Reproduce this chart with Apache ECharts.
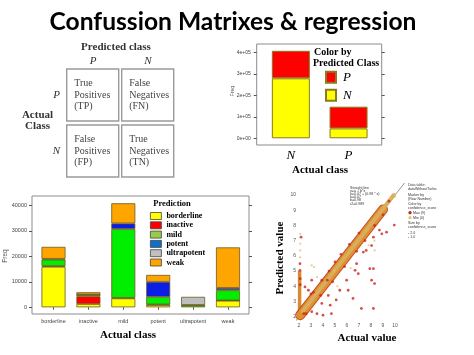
<!DOCTYPE html>
<html><head><meta charset="utf-8">
<script src="https://cdn.jsdelivr.net/npm/echarts@6/dist/echarts.min.js"></script>
<style>html,body{margin:0;padding:0;background:#fff}#c{width:474px;height:355px}</style>
</head><body><div id="c"></div>
<script>
// ---------------- data ----------------
const titleText = 'Confussion Matrixes & regression';

// confusion matrix diagram texts
const cmColLabels = ['P', 'N'];
const cmRowLabels = ['P', 'N'];
const cmCells = [
  ['True', 'Positives', '(TP)'], ['False', 'Negatives', '(FN)'],
  ['False', 'Positives', '(FP)'], ['True', 'Negatives', '(TN)']
];

// top-right: binary classification (actual class, coloured by predicted class)
const binCategories = ['N', 'P'];
const binPredN = [279000, 46000];
const binPredP = [128000, 101000];
const binTicks = [0, 100000, 200000, 300000, 400000];
const binTickLabels = ['0e+00', '1e+05', '2e+05', '3e+05', '4e+05'];

// bottom-left: multi-class
const mcCategories = ['borderline', 'inactive', 'mild', 'potent', 'ultrapotent', 'weak'];
const predBorderline  = [15900, 1300, 3500, 900, 0, 2600];
const predInactive    = [300, 3000, 200, 200, 0, 100];
const predMild        = [2500, 600, 27000, 3000, 800, 4000];
const predPotent      = [300, 100, 2200, 5900, 100, 900];
const predUltrapotent = [0, 0, 0, 0, 3200, 0];
const predWeak        = [4700, 900, 7900, 2700, 0, 15900];
const mcTicks = [0, 10000, 20000, 30000, 40000];

// regression scatter
const regTicks = [2, 3, 4, 5, 6, 7, 8, 9, 10];
const fitLine = [[1.65, 1.65], [10.8, 10.8]];
const denseBand = [[2.1, 2.1], [9.0, 9.05]];
const bandCore = [[2.3, 2.35], [9.9, 10.0]];
const lowColumn = [[2.05, 2.0], [2.05, 5.0]];
const maxPoints = [
  [9.94, 8.03], [9.3, 7.56], [8.7, 7.7], [8.9, 7.45], [8.2, 7.23], [8.05, 6.68], [7.6, 6.36],
  [7.36, 6.25], [7.9, 5.16], [8.2, 5.16], [8.05, 4.4], [8.3, 4.18], [8.2, 2.54], [6.8, 5.49],
  [6.67, 5.05], [6.94, 4.83], [5.97, 4.4], [6.1, 3.74], [6.5, 3.2], [7.2, 2.54], [5.4, 3.74],
  [5.1, 3.1], [4.6, 2.76], [4.7, 2.2], [4.0, 2.1], [3.5, 2.2], [3.06, 2.33], [3.9, 2.87],
  [4.44, 3.4], [2.5, 3.96], [2.78, 3.74], [3.2, 3.6], [3.06, 4.4], [2.08, 5.05], [2.08, 5.49],
  [2.17, 7.23], [3.9, 4.4], [4.36, 4.4], [5.0, 5.6], [5.5, 6.1], [4.5, 5.0], [6.2, 6.75],
  [7.0, 7.5], [6.8, 6.3], [5.8, 5.3], [4.8, 4.3], [3.8, 3.4], [7.5, 7.0], [8.3, 8.0],
  [3.0, 3.5], [2.6, 2.2], [9.0, 8.7], [9.5, 9.6], [2.1, 4.5], [2.1, 4.1], [2.4, 2.2]
];
const minPoints = [
  [3.06, 5.38], [3.25, 5.27], [4.94, 5.05], [8.28, 7.0], [8.3, 6.36], [2.1, 7.45], [2.1, 6.36],
  [2.1, 5.9], [2.1, 6.8], [9.9, 10.05], [10.0, 9.9], [9.6, 9.8], [7.8, 6.7], [6.3, 5.2],
  [3.5, 4.6], [5.2, 4.0]
];
const regLegendLeft = ['Straight line', 'y=a + b*x', 'y=0.07 + (0.98 * x)', 'a=0.07', 'b=0.98', 'r2=0.989'];
const regLegendRight = ['Data table:', 'dataWithoutTurbo', 'Marker by', '(Row Number)', 'Color by', 'confidence_score'];
const regLegendRight2 = ['Size by', 'confidence_score', '- 2.0', '- 1.0'];

// ---------------- styles ----------------
const SERIF = '"Liberation Serif", "DejaVu Serif", serif';
const SANS = '"Liberation Sans", Arial, sans-serif';
const mcColors = ['#ffff00', '#ff0000', '#00ee00', '#0a1ee6', '#bebebe', '#ffa500'];
const mcLegendColors = ['#ffff00', '#ff0000', '#99cc44', '#1070c8', '#c0c0c0', '#ffa500'];
const barBorder = '#6b5a1e';

function nz(arr) { return arr.map(v => v === 0 ? '-' : v); }

const graphics = [];
function txt(x, y, text, font, fill, align, vAlign, rot) {
  graphics.push({ type: 'text', x, y, rotation: rot || 0,
    style: { text, font, fill: fill || '#000', textAlign: align || 'center', textVerticalAlign: vAlign || 'middle' } });
}
// title
txt(233, 22, titleText, 'bold 24.6px Lato, "Open Sans", sans-serif', '#000');
// confusion matrix diagram
txt(116, 47.5, 'Predicted class', 'bold 11px ' + SERIF, '#333');
txt(93, 61, cmColLabels[0], 'italic 11px ' + SERIF, '#333');
txt(148, 61, cmColLabels[1], 'italic 11px ' + SERIF, '#333');
txt(56.5, 95, cmRowLabels[0], 'italic 11px ' + SERIF, '#333');
txt(56.5, 151, cmRowLabels[1], 'italic 11px ' + SERIF, '#333');
txt(37.5, 115, 'Actual', 'bold 11px ' + SERIF, '#333');
txt(37.5, 126, 'Class', 'bold 11px ' + SERIF, '#333');
const boxX = [66.7, 121.7], boxY = [69, 125], boxW = 52, boxH = 52;
for (let r = 0; r < 2; r++) for (let c = 0; c < 2; c++) {
  graphics.push({ type: 'rect', shape: { x: boxX[c], y: boxY[r], width: boxW, height: boxH },
    style: { fill: '#fff', stroke: '#9a9a9a', lineWidth: 1.4 } });
  const lines = cmCells[r * 2 + c];
  lines.forEach((t, i) => txt(boxX[c] + 7.5, boxY[r] + 14.3 + i * 11.7, t, '10px ' + SERIF, '#444', 'left'));
}
// top-right chart texts
txt(233, 91, 'Freq', '5px ' + SANS, '#555', 'center', 'middle', Math.PI / 2);
txt(320, 170, 'Actual class', 'bold 11px ' + SERIF, '#000');
txt(314, 52.5, 'Color by', 'bold 10px ' + SERIF, '#000', 'left');
txt(313, 63.5, 'Predicted Class', 'bold 10px ' + SERIF, '#000', 'left');
// bottom-left chart texts
txt(5.5, 256, 'Freq', '6.5px ' + SANS, '#555', 'center', 'middle', Math.PI / 2);
txt(128, 335, 'Actual class', 'bold 11px ' + SERIF, '#000');
txt(172, 204, 'Prediction', 'bold 8.5px ' + SERIF, '#000');
// scatter texts
txt(280, 258, 'Predicted value', 'bold 11px ' + SERIF, '#000', 'center', 'middle', Math.PI / 2);
txt(367, 338, 'Actual value', 'bold 11px ' + SERIF, '#000');
regLegendLeft.forEach((t, i) => txt(350, 187.5 + i * 3.2, t, '3.6px ' + SANS, '#333', 'left'));
regLegendRight.forEach((t, i) => txt(408, [185, 189, 195, 198.5, 204, 207.5][i], t, '3.6px ' + SANS, '#333', 'left'));
graphics.push({ type: 'circle', shape: { cx: 410, cy: 212.7, r: 1.6 }, style: { fill: '#c0201a' } });
txt(413, 212.7, 'Max (9)', '3.6px ' + SANS, '#333', 'left');
graphics.push({ type: 'circle', shape: { cx: 410, cy: 217.7, r: 1.6 }, style: { fill: '#e8c070' } });
txt(413, 217.7, 'Min (0)', '3.6px ' + SANS, '#333', 'left');
regLegendRight2.forEach((t, i) => txt(408, [223.3, 226.8, 232.7, 236.7][i], t, '3.6px ' + SANS, '#333', 'left'));

// ---------------- chart ----------------
const chart = echarts.init(document.getElementById('c'), null, { renderer: 'canvas', width: 474, height: 355 });

const hiddenVal = (gi) => ({ type: 'value', gridIndex: gi, min: 0, max: 1, show: false });
const tickAxis = (gi, min, max, ticks, labels, pos, showLbl, font, margin) => ({
  type: 'value', gridIndex: gi, min, max, position: pos,
  axisLine: { show: false }, splitLine: { show: false },
  axisTick: { show: true, length: 3, customValues: ticks, lineStyle: { color: '#555', width: 1 } },
  axisLabel: { show: showLbl, customValues: ticks, fontSize: font, fontFamily: SANS, color: '#444', margin,
    formatter: v => labels ? labels[ticks.indexOf(v)] : String(v) }
});

const mcSeries = [predBorderline, predInactive, predMild, predPotent, predUltrapotent, predWeak].map((arr, i) => ({
  name: mcCategories[i], type: 'bar', stack: 'mc', xAxisIndex: 3, yAxisIndex: 5, barWidth: 24,
  data: nz(arr), itemStyle: { color: mcColors[i], borderColor: barBorder, borderWidth: 0.8 }
}));

const option = {
  animation: false,
  backgroundColor: '#fff',
  grid: [
    { left: 256.7, top: 44, width: 125, height: 101, show: true, borderColor: '#8c8c8c', borderWidth: 1, backgroundColor: 'transparent' },
    { left: 262, top: 44, width: 115.4, height: 101 },
    { left: 32, top: 196, width: 217, height: 118, show: true, borderColor: '#8c8c8c', borderWidth: 1, backgroundColor: 'transparent' },
    { left: 36.05, top: 196, width: 209.4, height: 118 },
    { left: 297, top: 185, width: 108, height: 137 }
  ],
  xAxis: [
    hiddenVal(0),
    { type: 'category', gridIndex: 1, data: binCategories, axisLine: { show: false }, axisTick: { show: false },
      axisLabel: { fontFamily: SERIF, fontStyle: 'italic', fontSize: 13, color: '#000', margin: 4 } },
    hiddenVal(2),
    { type: 'category', gridIndex: 3, data: mcCategories, axisLine: { show: false },
      axisTick: { show: true, alignWithLabel: true, length: 2.5, lineStyle: { color: '#555' } },
      axisLabel: { fontFamily: SANS, fontSize: 5.5, color: '#444', margin: 4, interval: 0 } },
    { type: 'value', gridIndex: 4, min: 1.8333, max: 10.8333, axisLine: { show: false }, splitLine: { show: false },
      axisTick: { show: false },
      axisLabel: { customValues: regTicks, fontSize: 5, fontFamily: SANS, color: '#555', margin: 1.5 } }
  ],
  yAxis: [
    tickAxis(0, -31200, 438600, binTicks, binTickLabels, 'left', true, 5, 6),
    tickAxis(0, -31200, 438600, binTicks, null, 'right', false, 5, 6),
    { type: 'value', gridIndex: 1, min: -31200, max: 438600, show: false },
    tickAxis(2, -2630, 43650, mcTicks, null, 'left', true, 5.5, 5),
    tickAxis(2, -2630, 43650, mcTicks, null, 'right', false, 5.5, 5),
    { type: 'value', gridIndex: 3, min: -2630, max: 43650, show: false },
    { type: 'value', gridIndex: 4, min: 1.651, max: 10.664, axisLine: { show: false }, splitLine: { show: false },
      axisTick: { show: false },
      axisLabel: { customValues: regTicks, fontSize: 5, fontFamily: SANS, color: '#555', margin: 1 } }
  ],
  legend: [
    { data: ['P', 'N'], orient: 'vertical', left: 325, top: 70.7, icon: 'rect', itemWidth: 10, itemHeight: 11, itemGap: 5,
      selectedMode: false, textStyle: { fontFamily: SERIF, fontStyle: 'italic', fontSize: 13, color: '#000', padding: [0, 0, 0, 2] }, padding: 0 },
    { data: mcCategories.map((n, i) => ({ name: n, itemStyle: { color: mcLegendColors[i], borderColor: '#444', borderWidth: 0.8 } })),
      orient: 'vertical', left: 150, top: 211.5, icon: 'rect', itemWidth: 11, itemHeight: 7, itemGap: 0.3,
      selectedMode: false, padding: 0,
      textStyle: { fontFamily: SERIF, fontWeight: 'bold', fontSize: 8, lineHeight: 9, color: '#000' } }
  ],
  series: [
    { name: 'N', type: 'bar', stack: 'bin', xAxisIndex: 1, yAxisIndex: 2, barWidth: 38, data: binPredN,
      itemStyle: { color: '#ffff00', borderColor: '#8a7a20', borderWidth: 1 } },
    { name: 'P', type: 'bar', stack: 'bin', xAxisIndex: 1, yAxisIndex: 2, barWidth: 38, data: binPredP,
      itemStyle: { color: '#ff0000', borderColor: '#8a7a20', borderWidth: 1 } },
    ...mcSeries,
    { type: 'line', xAxisIndex: 4, yAxisIndex: 6, data: fitLine, symbol: 'none', clip: false,
      lineStyle: { color: '#777', width: 0.8 }, z: 1 },
    { type: 'line', xAxisIndex: 4, yAxisIndex: 6, data: lowColumn, symbol: 'none',
      lineStyle: { color: '#d98a30', width: 3.5 }, z: 2 },
    { type: 'line', xAxisIndex: 4, yAxisIndex: 6, data: denseBand, symbol: 'none',
      lineStyle: { color: '#c84a22', width: 10, cap: 'round' }, z: 2 },
    { type: 'line', xAxisIndex: 4, yAxisIndex: 6, data: denseBand, symbol: 'none',
      lineStyle: { color: '#e0902e', width: 8, cap: 'round' }, z: 3 },
    { type: 'line', xAxisIndex: 4, yAxisIndex: 6, data: bandCore, symbol: 'none',
      lineStyle: { color: '#d8ae5e', width: 4, cap: 'round' }, z: 4 },
    { name: 'Min (0)', type: 'scatter', xAxisIndex: 4, yAxisIndex: 6, data: minPoints, symbolSize: 2.2,
      itemStyle: { color: '#e6be74' }, z: 5 },
    { name: 'Max (9)', type: 'scatter', xAxisIndex: 4, yAxisIndex: 6, data: maxPoints, symbolSize: 2.8,
      itemStyle: { color: '#c8261e' }, z: 6 }
  ],
  graphic: { elements: graphics }
};
chart.setOption(option);
</script>
</body></html>
